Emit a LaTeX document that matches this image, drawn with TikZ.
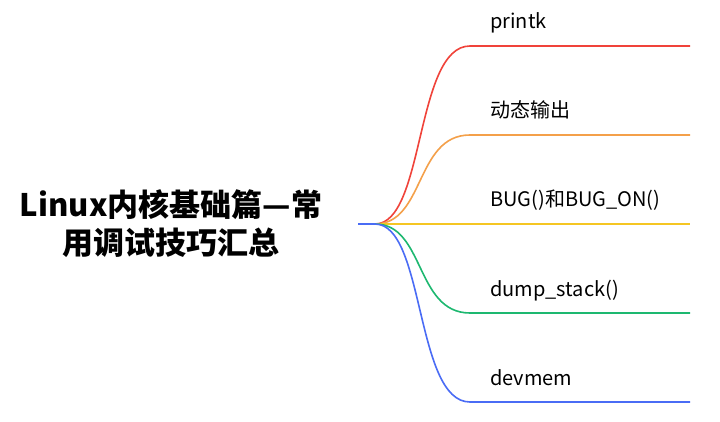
\documentclass[tikz,border=0pt]{standalone}
\usepackage{fontspec}
\setmainfont{Noto Sans CJK SC}
\begin{document}
\begin{tikzpicture}[x=1pt,y=-1pt,
  br/.style={line width=1.6pt},
  lab/.style={anchor=base west,font=\fontsize{20}{22}\selectfont,inner sep=0pt}]
\useasboundingbox (0,0) rectangle (720,422);
\fill[white] (0,0) rectangle (720,422);
\node[font=\bfseries\fontsize{31}{38}\selectfont,align=center] (root) at (171,224) {Linux内核基础篇—常\\用调试技巧汇总};
\coordinate (o) at (358,224);
\foreach \y/\c/\t/\n in {46/F0433A/printk/a,135/F4A04A/动态输出/b,224/F5C623/BUG()和BUG\_ON()/c,313/1DB870/dump\_stack()/d,402/4A6CF5/devmem/e}{
  \definecolor{cc}{HTML}{\c}
  \coordinate (s\n) at (470,\y);
  \coordinate (t\n) at (690,\y);
  \draw[br,cc] (o) -- (375,224) .. controls (425,224) and (415,\y) .. (s\n) -- (t\n);
  \node[lab] (l\n) at (490,\y-17) {\t};
}
\end{tikzpicture}
\end{document}
